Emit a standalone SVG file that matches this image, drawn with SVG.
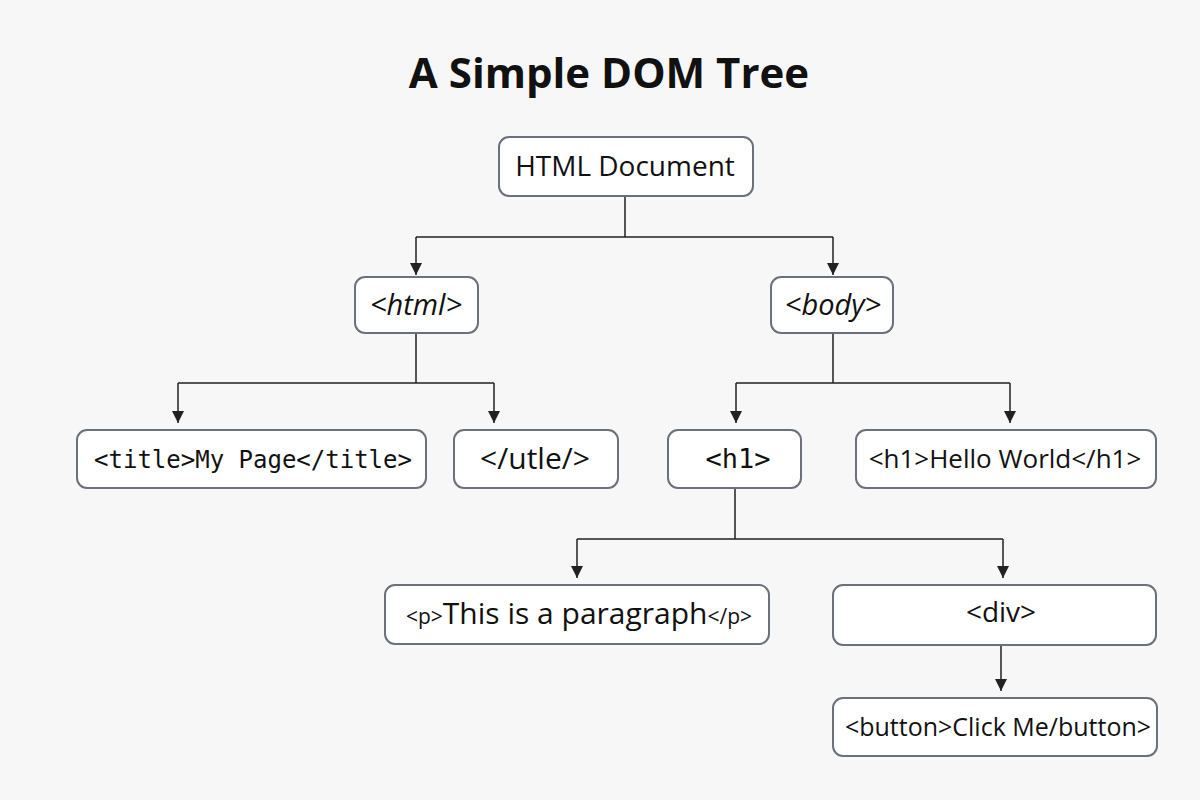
<svg xmlns="http://www.w3.org/2000/svg" width="1200" height="800" viewBox="0 0 1200 800">
<defs>
<marker id="arr" viewBox="0 0 10 10" refX="10" refY="5" markerWidth="12" markerHeight="12" markerUnits="userSpaceOnUse" orient="auto">
<path d="M0,0 L10,5 L0,10 z" fill="#222"/>
</marker>
<style>
.box{fill:#ffffff;stroke:#6b707a;stroke-width:2}
.t{font-family:"Open Sans","Noto Sans",sans-serif;fill:#111;text-anchor:middle}
.m{font-family:"DejaVu Sans Mono","Liberation Mono",monospace;fill:#111;text-anchor:middle}
.c{fill:none;stroke:#222;stroke-width:1.5}
</style>
</defs>
<rect width="1200" height="800" fill="#f7f7f7"/>
<text x="609" y="88" class="t" font-size="42" font-weight="bold">A Simple DOM Tree</text>
<g id="connectors">
<path class="c" d="M625,196 V237 M416,237 H833"/>
<path class="c" d="M416,237 V275" marker-end="url(#arr)"/>
<path class="c" d="M833,237 V275" marker-end="url(#arr)"/>
<path class="c" d="M416,333 V383 M178,383 H494"/>
<path class="c" d="M178,383 V423" marker-end="url(#arr)"/>
<path class="c" d="M494,383 V423" marker-end="url(#arr)"/>
<path class="c" d="M833,333 V383 M736,383 H1010"/>
<path class="c" d="M736,383 V423" marker-end="url(#arr)"/>
<path class="c" d="M1010,383 V423" marker-end="url(#arr)"/>
<path class="c" d="M735,488 V539 M577,539 H1003"/>
<path class="c" d="M577,539 V578" marker-end="url(#arr)"/>
<path class="c" d="M1003,539 V578" marker-end="url(#arr)"/>
<path class="c" d="M1001,645 V691" marker-end="url(#arr)"/>
</g>
<g id="n-doc"><rect class="box" x="499" y="137" width="254" height="59" rx="10"/><text x="625" y="176" class="t" font-size="28">HTML Document</text></g>
<g id="n-html"><rect class="box" x="355" y="277" width="123" height="56" rx="10"/><text x="416" y="315" class="t" font-size="29" font-style="italic">&lt;html&gt;</text></g>
<g id="n-body"><rect class="box" x="771" y="277" width="122" height="56" rx="10"/><text x="833" y="315" class="t" font-size="29" font-style="italic">&lt;body&gt;</text></g>
<g id="n-title"><rect class="box" x="77" y="430" width="349" height="58" rx="10"/><text x="253" y="468" class="m" font-size="24">&lt;title&gt;My Page&lt;/title&gt;</text></g>
<g id="n-utle"><rect class="box" x="454" y="430" width="164" height="58" rx="10"/><text x="535" y="469" class="t" font-size="30">&lt;/utle/&gt;</text></g>
<g id="n-h1"><rect class="box" x="668" y="430" width="133" height="58" rx="10"/><text x="738" y="468" class="m" font-size="27">&lt;h1&gt;</text></g>
<g id="n-h1hello"><rect class="box" x="856" y="430" width="300" height="58" rx="10"/><text x="1005" y="468" class="t" font-size="26">&lt;h1&gt;Hello World&lt;/h1&gt;</text></g>
<g id="n-p"><rect class="box" x="385" y="585" width="384" height="59" rx="10"/><text x="579" y="624" class="t" font-size="30"><tspan font-size="21">&lt;p&gt;</tspan>This is a paragraph<tspan font-size="21">&lt;/p&gt;</tspan></text></g>
<g id="n-div"><rect class="box" x="833" y="585" width="323" height="60" rx="10"/><text x="1001" y="622" class="t" font-size="28">&lt;div&gt;</text></g>
<g id="n-button"><rect class="box" x="833" y="698" width="324" height="58" rx="10"/><text x="998" y="736" class="t" font-size="25">&lt;button&gt;Click Me/button&gt;</text></g>
</svg>
